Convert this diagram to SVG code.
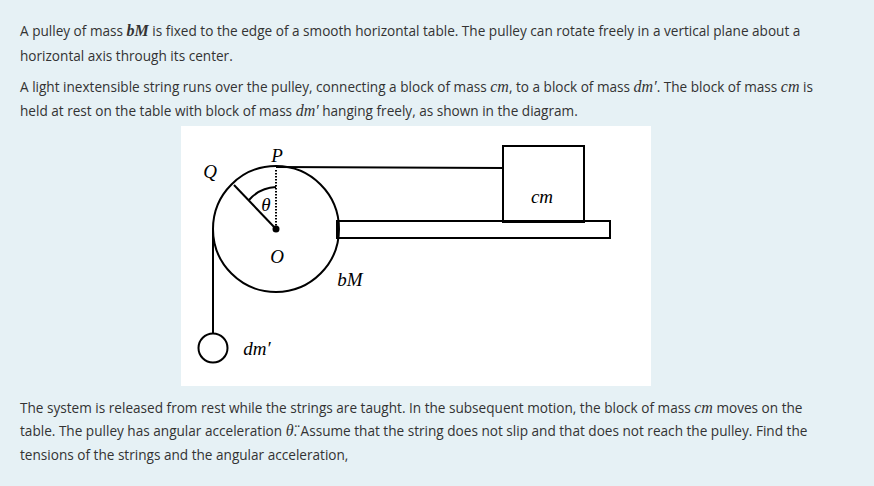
<svg xmlns="http://www.w3.org/2000/svg" width="874" height="486" viewBox="0 0 874 486">
<style>
.t{font-family:"Open Sans","Liberation Sans",sans-serif;font-size:13.6px;fill:#333}
.m{font-family:"Liberation Serif",serif;font-style:italic;font-size:16px;fill:#333}
.d{font-family:"Liberation Serif",serif;font-style:italic;font-size:19px;fill:#000}
.s{fill:none;stroke:#000;stroke-width:2}
</style>
<rect width="874" height="486" fill="#e6f1f5"/>
<text class="t" x="20" y="36">A pulley of mass <tspan class="m" font-weight="bold">bM</tspan> is fixed to the edge of a smooth horizontal table. The pulley can rotate freely in a vertical plane about a</text>
<text class="t" x="20" y="61">horizontal axis through its center.</text>
<text class="t" x="20" y="92">A light inextensible string runs over the pulley, connecting a block of mass <tspan class="m">cm</tspan>, to a block of mass <tspan class="m">dm′</tspan>. The block of mass <tspan class="m">cm</tspan> is</text>
<text class="t" x="20" y="116">held at rest on the table with block of mass <tspan class="m">dm′</tspan> hanging freely, as shown in the diagram.</text>
<rect x="181" y="126" width="470" height="260" fill="#fff"/>
<g id="pulley"><circle class="s" cx="276" cy="229" r="63"/><line class="s" x1="276" y1="229" x2="234" y2="185"/><line x1="276" y1="170" x2="276" y2="229" stroke="#000" stroke-width="2" stroke-dasharray="1.5 1.5"/><circle cx="276" cy="229" r="3.5"/><path class="s" stroke-width="1.3" d="M249 200 A38 38 0 0 1 276 187"/></g>
<g id="table"><rect class="s" x="337" y="221" width="273" height="17"/></g>
<g id="block"><rect class="s" x="503" y="146" width="81" height="76"/></g>
<g id="ball"><circle class="s" cx="213" cy="348" r="14.5"/></g>
<g id="connectors"><line class="s" x1="276" y1="167" x2="503" y2="168"/><line class="s" x1="213" y1="229" x2="213" y2="333"/></g>
<g id="labels">
<text class="d" x="277" y="162" text-anchor="middle">P</text>
<text class="d" x="210" y="178" text-anchor="middle">Q</text>
<text class="d" x="266" y="211" text-anchor="middle">θ</text>
<text class="d" x="277" y="263" text-anchor="middle">O</text>
<text class="d" x="350" y="286" text-anchor="middle">bM</text>
<text class="d" x="542" y="203" text-anchor="middle">cm</text>
<text class="d" x="257" y="355" text-anchor="middle">dm′</text>
</g>
<text class="t" x="20" y="413">The system is released from rest while the strings are taught. In the subsequent motion, the block of mass <tspan class="m">cm</tspan> moves on the</text>
<text class="t" x="20" y="436">table. The pulley has angular acceleration <tspan class="m">θ̈</tspan>. Assume that the string does not slip and that does not reach the pulley. Find the</text>
<text class="t" x="20" y="460">tensions of the strings and the angular acceleration,</text>
</svg>
